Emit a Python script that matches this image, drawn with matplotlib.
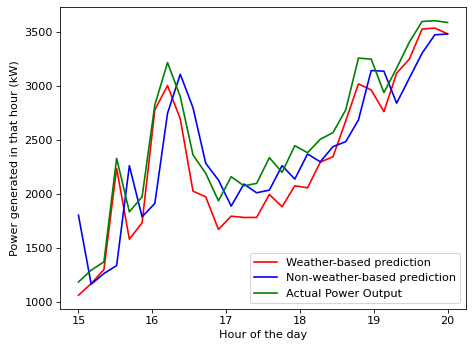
import numpy as np
import matplotlib
matplotlib.use("Agg")
import matplotlib.pyplot as plt

hours = np.linspace(15, 20, 30)
weather = [1065, 1173, 1303, 2239, 1584, 1735, 2780, 3005, 2696, 2028,
           1976, 1674, 1797, 1785, 1785, 1998, 1884, 2078, 2059, 2296,
           2347, 2678, 3021, 2965, 2764, 3120, 3250, 3528, 3537, 3484]
nonweather = [1806, 1167, 1266, 1340, 2264, 1791, 1915, 2749, 3110, 2800,
              2286, 2131, 1890, 2094, 2013, 2038, 2264, 2140, 2372, 2300,
              2440, 2486, 2687, 3144, 3138, 2842, 3074, 3305, 3475, 3482]
actual = [1188, 1297, 1374, 2332, 1837, 1976, 2826, 3218, 2903, 2363,
          2193, 1939, 2162, 2078, 2100, 2338, 2202, 2449, 2384, 2508,
          2570, 2780, 3259, 3250, 2940, 3166, 3407, 3598, 3605, 3589]

plt.rcParams["font.size"] = 11
W, H = 474, 352
fig = plt.figure(figsize=(W / 74, H / 74), dpi=74)
ax = fig.add_axes([60 / W, 1 - 309 / H, (466 - 60) / W, (309 - 7) / H])
lw = 1.6
ax.plot(hours, weather, color="red", lw=lw, label="Weather-based prediction")
ax.plot(hours, nonweather, color="blue", lw=lw, label="Non-weather-based prediction")
ax.plot(hours, actual, color="green", lw=lw, label="Actual Power Output")
ax.set_xlabel("Hour of the day")
ax.set_ylabel("Power generated in that hour (kW)")
ax.legend(loc="lower right")
fig.savefig("out.png", dpi=74)
